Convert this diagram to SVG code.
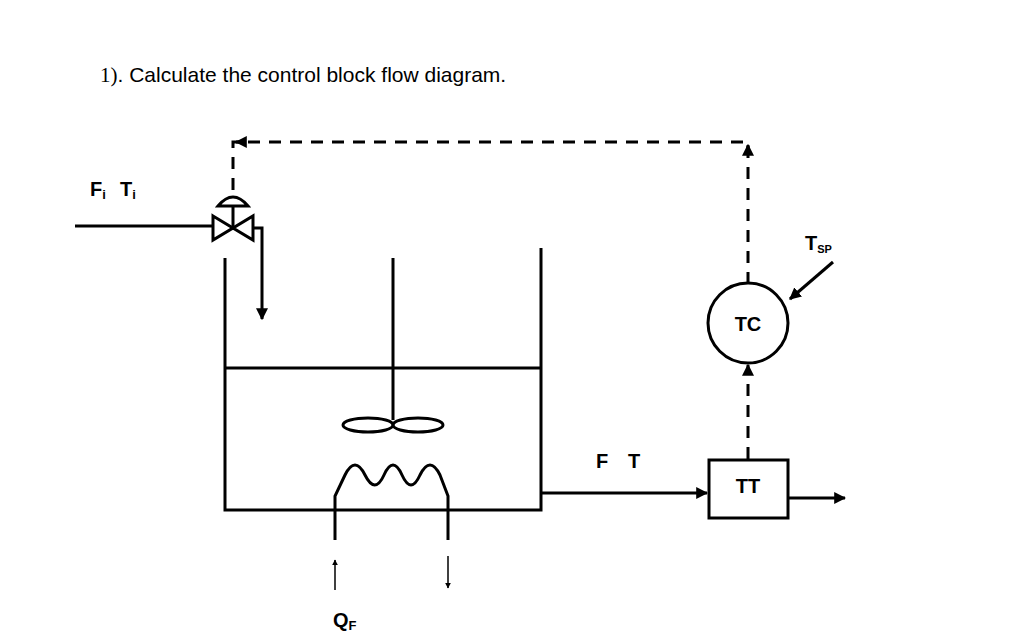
<svg xmlns="http://www.w3.org/2000/svg" width="1024" height="642" viewBox="0 0 1024 642">
<style>
.l{stroke:#000;stroke-width:3;fill:none}
.t{stroke:#000;stroke-width:1.5;fill:none}
.d{stroke:#000;stroke-width:3;fill:none;stroke-dasharray:12,9}
text{font-family:"Liberation Sans",Arial,sans-serif;font-weight:bold;font-size:20px;fill:#000}
</style>
<defs>
<marker id="a" viewBox="0 0 10 10" refX="9" refY="5" markerWidth="4" markerHeight="4" orient="auto"><path d="M0,0L10,5L0,10z"/></marker>
</defs>
<rect width="1024" height="642" fill="#fff"/>
<text x="100" y="82" style="font-weight:normal;font-size:21px"><tspan font-family="Liberation Serif">1)</tspan>. Calculate the control block flow diagram.</text>
<g id="valve">
<path class="l" d="M213,216L253,240L253,216L213,240Z"/>
<path class="l" d="M233,228V206M218,206Q233,188 248,206Z"/>
</g>
<g id="tank">
<path class="l" d="M225,258V510H541V248M225,368H541M393,258V420"/>
<ellipse class="l" cx="368" cy="425" rx="25" ry="7"/>
<ellipse class="l" cx="418" cy="425" rx="25" ry="7"/>
<path class="l" d="M335,540V496L345,475Q355,455 365,475Q375,495 384,475Q393,455 402,475Q411,495 420,475Q430,455 440,475L448,496V540"/>
</g>
<g id="TC"><circle class="l" cx="748" cy="323" r="40"/><text x="748" y="331" text-anchor="middle" font-size="18">TC</text></g>
<g id="TT"><rect class="l" x="709" y="460" width="79" height="58"/><text x="748" y="493" text-anchor="middle" font-size="18">TT</text></g>
<g id="connectors">
<path class="l" d="M75,226H213"/>
<path class="l" d="M253,228H262V319" marker-end="url(#a)"/>
<path class="d" d="M233,190V142H748V290"/>
<path class="l" d="M243,142H236" marker-end="url(#a)"/>
<path class="l" d="M748,155V145" marker-end="url(#a)"/>
<path class="d" d="M748,459V368"/>
<path class="l" d="M748,375V365" marker-end="url(#a)"/>
<path class="l" d="M541,493H707" marker-end="url(#a)"/>
<path class="l" d="M788,498H845" marker-end="url(#a)"/>
<path class="l" d="M833,262L790,299" marker-end="url(#a)"/>
<path class="t" d="M335,590V560" marker-end="url(#a)"/>
<path class="t" d="M448,556V588" marker-end="url(#a)"/>
</g>
<text x="90" y="196">F<tspan font-size="13" dy="3">i</tspan></text>
<text x="120" y="196">T<tspan font-size="13" dy="3">i</tspan></text>
<text x="596" y="468">F</text><text x="628" y="468">T</text>
<text x="805" y="250" font-size="17">T<tspan font-size="11" dy="3">SP</tspan></text>
<text x="333" y="627">Q<tspan font-size="13" dy="3">F</tspan></text>
</svg>
